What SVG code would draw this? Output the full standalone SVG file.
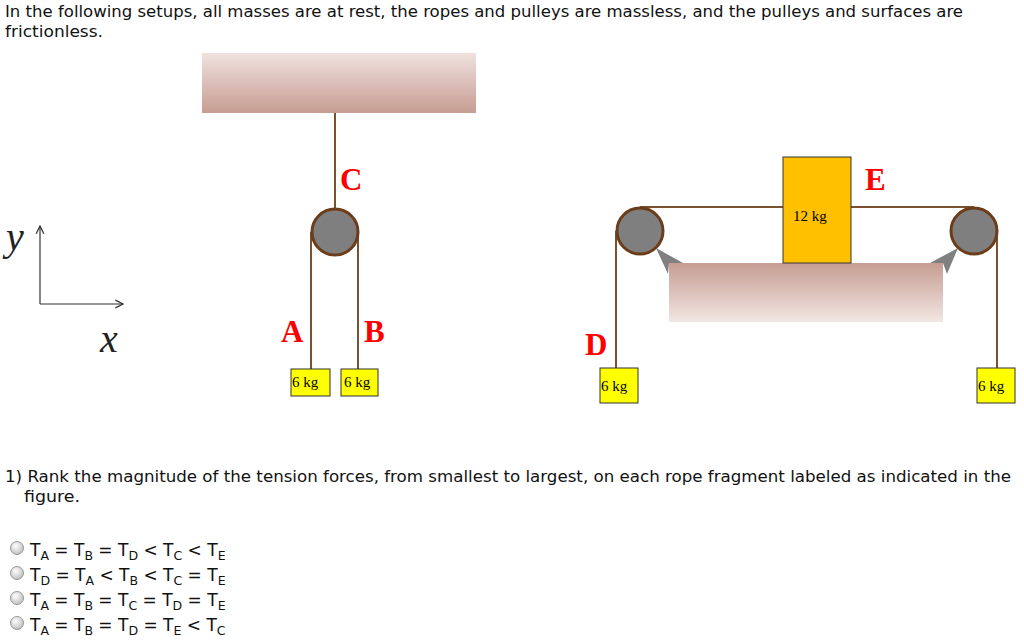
<svg xmlns="http://www.w3.org/2000/svg" width="1024" height="644" viewBox="0 0 1024 644">
<style>
.t{font-family:"DejaVu Sans",sans-serif;font-size:16px;fill:#111}
.lbl{font-family:"Liberation Serif",serif;font-weight:bold;font-size:31px;fill:#f00}
.kg{font-family:"Liberation Serif",serif;font-size:15px;fill:#000}
.rope{stroke:#7a5230;stroke-width:2;fill:none}
.pul{fill:#7f7f7f;stroke:#6b3d1a;stroke-width:3}
.box{fill:#ff0;stroke:#333;stroke-width:1}
.ax{stroke:#333;stroke-width:1.2;fill:none}
.opt{font-family:"DejaVu Sans",sans-serif;font-size:17px;fill:#111}
.sub{font-size:12.5px}
</style>
<defs>
<linearGradient id="g1" x1="0" y1="0" x2="0" y2="1"><stop offset="0" stop-color="#f0e1de"/><stop offset="1" stop-color="#c69d92"/></linearGradient>
<linearGradient id="g2" x1="0" y1="0" x2="0" y2="1"><stop offset="0" stop-color="#c69d92"/><stop offset="1" stop-color="#f2e6e3"/></linearGradient>
<radialGradient id="rb" cx="0.4" cy="0.35" r="0.7"><stop offset="0" stop-color="#fff"/><stop offset="1" stop-color="#bbb"/></radialGradient>
<marker id="ah" viewBox="0 0 10 10" refX="9" refY="5" markerWidth="8" markerHeight="8" orient="auto"><path d="M1,1 L9,5 L1,9" fill="none" stroke="#333" stroke-width="1.3"/></marker>
</defs>
<text class="t" x="5" y="17" textLength="958" lengthAdjust="spacingAndGlyphs">In the following setups, all masses are at rest, the ropes and pulleys are massless, and the pulleys and surfaces are</text>
<text class="t" x="5" y="37" textLength="98" lengthAdjust="spacingAndGlyphs">frictionless.</text>
<g id="axes">
<line class="ax" x1="40" y1="304" x2="40" y2="226" marker-end="url(#ah)"/>
<line class="ax" x1="40" y1="304" x2="123" y2="304" marker-end="url(#ah)"/>
<text x="6" y="250" font-family="Liberation Serif,serif" font-style="italic" font-size="40" fill="#222">y</text>
<text x="100" y="352" font-family="Liberation Serif,serif" font-style="italic" font-size="40" fill="#222">x</text>
</g>
<g id="ceiling"><rect x="202" y="53" width="274" height="60" fill="url(#g1)"/></g>
<g id="table"><rect x="669" y="263" width="274" height="59" fill="url(#g2)"/>
<polygon points="656,248 683,263 669,263 668,274" fill="#808080"/>
<polygon points="958,248 930,263 943,263 947,274" fill="#808080"/></g>
<g id="connectors">
<line class="rope" x1="335" y1="113" x2="335" y2="210"/>
<line class="rope" x1="311" y1="232" x2="311" y2="369"/>
<line class="rope" x1="358" y1="232" x2="358" y2="369"/>
<line class="rope" x1="640" y1="207" x2="974" y2="207"/>
<line class="rope" x1="616" y1="231" x2="616" y2="368"/>
<line class="rope" x1="997" y1="231" x2="997" y2="368"/>
</g>
<g id="pulleyC"><circle class="pul" cx="335" cy="232" r="23"/></g>
<g id="pulleyL"><circle class="pul" cx="640" cy="231" r="23"/></g>
<g id="pulleyR"><circle class="pul" cx="974" cy="231" r="23"/></g>
<g id="massA"><rect class="box" x="291" y="369" width="39" height="27"/><text class="kg" x="292" y="387">6 kg</text></g>
<g id="massB"><rect class="box" x="341" y="369" width="37" height="27"/><text class="kg" x="344" y="387">6 kg</text></g>
<g id="massD"><rect class="box" x="600" y="368" width="38" height="35"/><text class="kg" x="601" y="391">6 kg</text></g>
<g id="massR"><rect class="box" x="977" y="368" width="38" height="35"/><text class="kg" x="978" y="391">6 kg</text></g>
<g id="mass12"><rect x="783" y="157" width="68" height="106" fill="#ffc000" stroke="#333"/><text class="kg" x="793" y="221">12 kg</text></g>
<g id="labels">
<text class="lbl" x="340" y="190">C</text>
<text class="lbl" x="281" y="342">A</text>
<text class="lbl" x="364" y="342">B</text>
<text class="lbl" x="585" y="355">D</text>
<text class="lbl" x="865" y="190">E</text>
</g>
<text class="t" x="5" y="482" textLength="1006" lengthAdjust="spacingAndGlyphs">1) Rank the magnitude of the tension forces, from smallest to largest, on each rope fragment labeled as indicated in the</text>
<text class="t" x="24" y="502" textLength="56" lengthAdjust="spacingAndGlyphs">figure.</text>
<g id="options">
<circle cx="17" cy="548" r="6.5" fill="url(#rb)" stroke="#999"/>
<circle cx="17" cy="573" r="6.5" fill="url(#rb)" stroke="#999"/>
<circle cx="17" cy="598" r="6.5" fill="url(#rb)" stroke="#999"/>
<circle cx="17" cy="623" r="6.5" fill="url(#rb)" stroke="#999"/>
<text class="opt" x="30" y="556">T<tspan class="sub" dy="4">A</tspan><tspan dy="-4"> = T</tspan><tspan class="sub" dy="4">B</tspan><tspan dy="-4"> = T</tspan><tspan class="sub" dy="4">D</tspan><tspan dy="-4"> &lt; T</tspan><tspan class="sub" dy="4">C</tspan><tspan dy="-4"> &lt; T</tspan><tspan class="sub" dy="4">E</tspan></text>
<text class="opt" x="30" y="581">T<tspan class="sub" dy="4">D</tspan><tspan dy="-4"> = T</tspan><tspan class="sub" dy="4">A</tspan><tspan dy="-4"> &lt; T</tspan><tspan class="sub" dy="4">B</tspan><tspan dy="-4"> &lt; T</tspan><tspan class="sub" dy="4">C</tspan><tspan dy="-4"> = T</tspan><tspan class="sub" dy="4">E</tspan></text>
<text class="opt" x="30" y="606">T<tspan class="sub" dy="4">A</tspan><tspan dy="-4"> = T</tspan><tspan class="sub" dy="4">B</tspan><tspan dy="-4"> = T</tspan><tspan class="sub" dy="4">C</tspan><tspan dy="-4"> = T</tspan><tspan class="sub" dy="4">D</tspan><tspan dy="-4"> = T</tspan><tspan class="sub" dy="4">E</tspan></text>
<text class="opt" x="30" y="631">T<tspan class="sub" dy="4">A</tspan><tspan dy="-4"> = T</tspan><tspan class="sub" dy="4">B</tspan><tspan dy="-4"> = T</tspan><tspan class="sub" dy="4">D</tspan><tspan dy="-4"> = T</tspan><tspan class="sub" dy="4">E</tspan><tspan dy="-4"> &lt; T</tspan><tspan class="sub" dy="4">C</tspan></text>
</g>
</svg>
